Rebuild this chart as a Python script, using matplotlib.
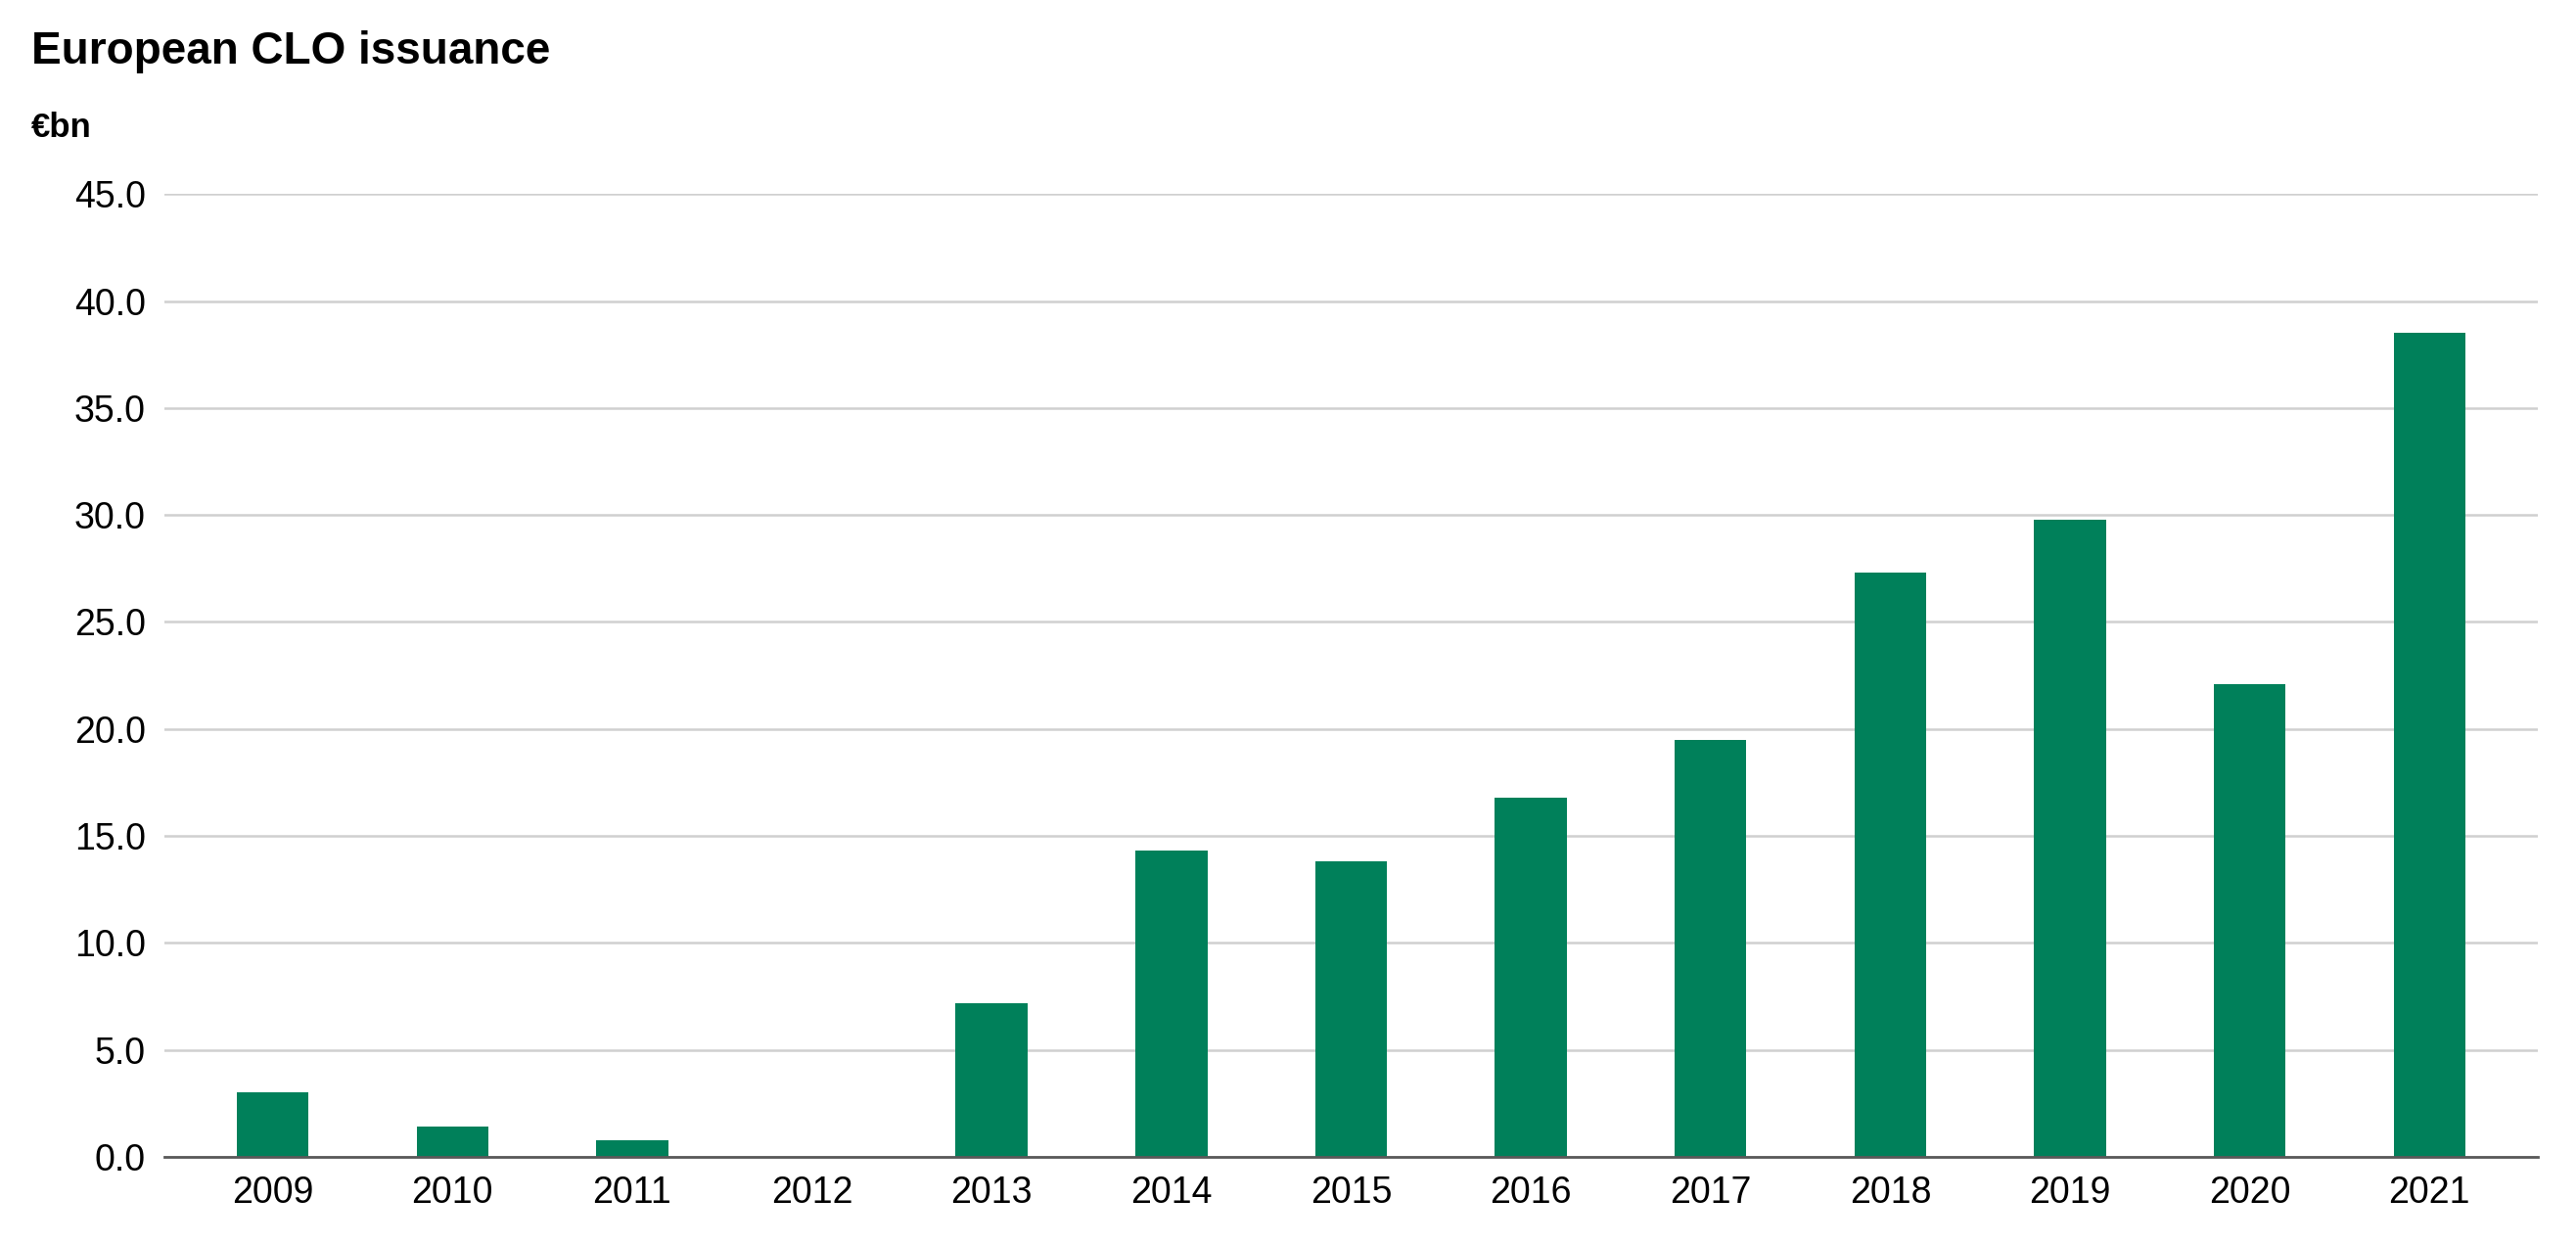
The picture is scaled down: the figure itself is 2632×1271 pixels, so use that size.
import matplotlib
matplotlib.use("Agg")
import matplotlib.pyplot as plt

years = ["2009","2010","2011","2012","2013","2014","2015","2016","2017","2018","2019","2020","2021"]
values = [3.0, 1.4, 0.8, 0.0, 7.2, 14.3, 13.8, 16.8, 19.5, 27.3, 29.8, 22.1, 38.5]
yticks = [0,5,10,15,20,25,30,35,40,45]

plt.rcParams['font.family'] = ['Liberation Sans', 'DejaVu Sans']
fig = plt.figure(figsize=(26.32, 12.71), dpi=100)
ax = fig.add_axes([0.064, 0.070, 0.921, 0.774])
x = range(len(years))
ax.bar(x, values, width=0.4, color="#00805A", zorder=3)
ax.set_xlim(-0.6, len(years)-0.4)
ax.set_ylim(0, 45)
ax.set_yticks(yticks)
ax.set_yticklabels([f"{v:.1f}" for v in yticks])
ax.set_xticks(list(x))
ax.set_xticklabels(years)
ax.tick_params(axis='both', labelsize=27, length=0, pad=14)
ax.grid(axis='y', color='#d0d0d0', linewidth=1.8, zorder=0)
for s in ['top','right','left']:
    ax.spines[s].set_visible(False)
ax.spines['bottom'].set_color('#595959')
ax.spines['bottom'].set_linewidth(2)
ax.spines['bottom'].set_zorder(4)
fig.text(0.012, 0.958, "European CLO issuance", fontsize=33, fontweight='bold', va='center', ha='left')
fig.text(0.012, 0.897, "€bn", fontsize=25, fontweight='bold', va='center', ha='left')
fig.savefig("out.png", dpi=100)
